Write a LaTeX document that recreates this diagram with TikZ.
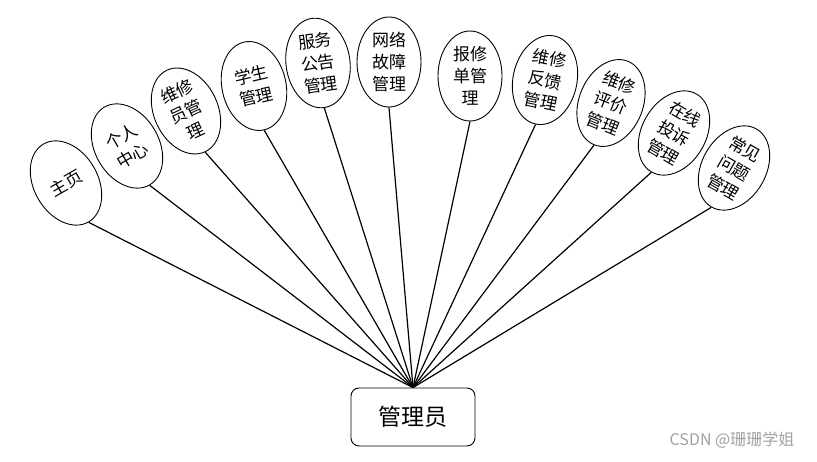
\documentclass[tikz,border=0pt]{standalone}
\usepackage{fontspec}
\newfontfamily\cjk{Noto Sans CJK SC}
\usepackage{xcolor}
\usetikzlibrary{shapes.geometric}
\definecolor{Ink}{HTML}{000000}
\definecolor{Mark}{HTML}{A0A0A0}

\begin{document}
\begin{tikzpicture}[x=1pt,y=1pt,font=\cjk,
    func/.style={draw=Ink,ellipse,line width=0.9pt,minimum width=64pt,
      minimum height=90pt,inner sep=-6pt,align=center,
      font=\cjk\fontsize{17}{22}\selectfont},
    role/.style={draw=Ink,rounded corners=8pt,line width=0.9pt,minimum width=124pt,
      minimum height=58pt,font=\cjk\fontsize{23}{26}\selectfont},
    link/.style={Ink,line width=1.2pt}]
  \useasboundingbox (0,0) rectangle (817,461);
  \node[role] (A) at (413,44) {管理员};
  \node[func,rotate=30] (F1) at (66,278) {主页};
  \node[func,rotate=30] (F2) at (127,315) {个人\\中心};
  \node[func,rotate=25] (F3) at (186,350) {维修\\员管\\理};
  \node[func,rotate=13] (F4) at (254,375) {学生\\管理};
  \node[func,rotate=8] (F5) at (318,398) {服务\\公告\\管理};
  \node[func] (F6) at (389,399) {网络\\故障\\管理};
  \node[func] (F7) at (470,385) {报修\\单管\\理};
  \node[func,rotate=-12] (F8) at (545,381) {维修\\反馈\\管理};
  \node[func,rotate=-22] (F9) at (611,358) {维修\\评价\\管理};
  \node[func,rotate=-30] (F10) at (674,328) {在线\\投诉\\管理};
  \node[func,rotate=-30] (F11) at (734,293) {常见\\问题\\管理};
  % spokes to the role box
  \foreach \f in {F1,F2,F3,F4,F5,F6,F7,F8,F9,F10,F11}
    \draw[link] (\f.south) -- (A.north);
  \node[text=Mark,font=\cjk\fontsize{16}{18}\selectfont] (W) at (732,21) {CSDN @珊珊学姐};
\end{tikzpicture}
\end{document}
